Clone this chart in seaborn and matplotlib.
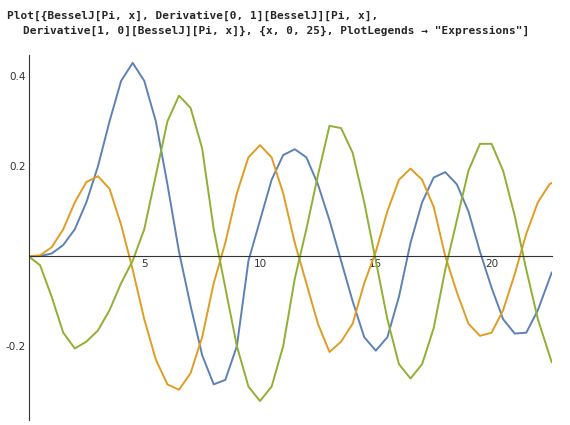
import matplotlib
matplotlib.use("Agg")
import matplotlib.pyplot as plt
import seaborn as sns
import pandas as pd

x = [0,0.5,1,1.5,2,2.5,3,3.5,4,4.5,5,5.5,6,6.5,7,7.5,8,8.5,9,9.5,10,10.5,11,11.5,12,12.5,13,13.5,14,14.5,15,15.5,16,16.5,17,17.5,18,18.5,19,19.5,20,20.5,21,21.5,22,22.5,22.6]
besselj = [0,0.0003,0.006,0.025,0.06,0.12,0.2,0.3,0.39,0.43,0.39,0.3,0.16,0.01,-0.11,-0.22,-0.285,-0.275,-0.2,-0.01,0.08,0.17,0.225,0.238,0.22,0.16,0.08,-0.01,-0.1,-0.18,-0.21,-0.18,-0.09,0.03,0.12,0.175,0.187,0.16,0.1,0.01,-0.07,-0.14,-0.172,-0.17,-0.12,-0.05,-0.036]
deriv_x = [0,0.002,0.02,0.06,0.12,0.165,0.178,0.15,0.07,-0.03,-0.14,-0.23,-0.285,-0.297,-0.26,-0.18,-0.06,0.03,0.14,0.22,0.247,0.22,0.14,0.03,-0.06,-0.15,-0.213,-0.19,-0.15,-0.06,0.01,0.1,0.17,0.195,0.17,0.11,0.0,-0.08,-0.15,-0.177,-0.17,-0.12,-0.04,0.05,0.12,0.16,0.163]
deriv_nu = [0,-0.02,-0.09,-0.17,-0.205,-0.19,-0.165,-0.12,-0.06,-0.01,0.06,0.18,0.3,0.357,0.33,0.24,0.06,-0.07,-0.2,-0.29,-0.322,-0.29,-0.2,-0.05,0.06,0.18,0.29,0.285,0.23,0.12,-0.01,-0.14,-0.24,-0.272,-0.24,-0.16,-0.03,0.08,0.19,0.25,0.25,0.19,0.09,-0.03,-0.14,-0.22,-0.236]
xticks = [5, 10, 15, 20]
yticks = [-0.2, 0.2, 0.4]

names = ["BesselJ", "dJ/dx", "dJ/dnu"]
df = pd.concat([pd.DataFrame({"x": x, "y": v, "s": n}) for n, v in zip(names, [besselj, deriv_x, deriv_nu])])

sns.set_style("white")
fig = plt.figure(figsize=(5.7, 4.25), dpi=100)
ax = fig.add_axes([0.05, 0.012, 0.918, 0.858])
sns.lineplot(data=df, x="x", y="y", hue="s", palette=["#5E81B5", "#E19C24", "#8FB032"],
             ax=ax, legend=False, linewidth=1.4)
ax.set_xlim(0, 22.6)
ax.set_ylim(-0.364, 0.447)
ax.spines["left"].set_position(("data", 0))
ax.spines["bottom"].set_position(("data", 0))
for s in ["top", "right"]:
    ax.spines[s].set_visible(False)
for s in ["left", "bottom"]:
    ax.spines[s].set_color("#333333")
    ax.spines[s].set_linewidth(0.8)
ax.set_xticks(xticks)
ax.set_yticks(yticks)
ax.set_yticklabels(["-0.2", "0.2", "0.4"])
ax.tick_params(labelsize=7.5, colors="#333333", direction="in", length=4, width=0.6, pad=2)
ax.set_xlabel("")
ax.set_ylabel("")
fig.text(0.012, 0.975, "Plot[{BesselJ[Pi, x], Derivative[0, 1][BesselJ][Pi, x],",
         family="DejaVu Sans Mono", weight="bold", fontsize=8, va="top")
fig.text(0.04, 0.94, "Derivative[1, 0][BesselJ][Pi, x]}, {x, 0, 25}, PlotLegends \u2192 \"Expressions\"]",
         family="DejaVu Sans Mono", weight="bold", fontsize=8, va="top")
fig.savefig("out.png", dpi=100)
